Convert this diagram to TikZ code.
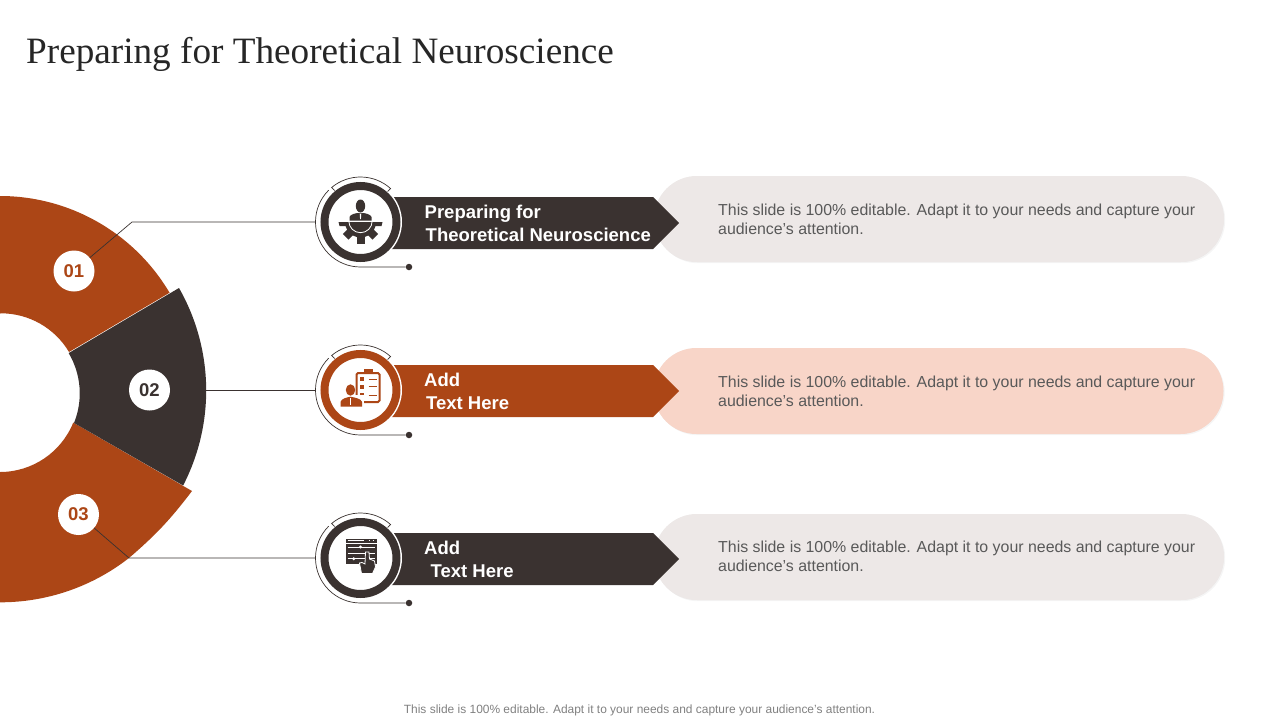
\documentclass[tikz,border=0pt]{standalone}
\usepackage{fontspec}
\setmainfont{Liberation Sans}
\newfontfamily\titlefont{Liberation Serif}
\usetikzlibrary{shadows}
\definecolor{rust}{HTML}{AC4616}
\definecolor{coal}{HTML}{3A3230}
\definecolor{ash}{HTML}{EDE8E7}
\definecolor{blush}{HTML}{F8D5C8}
\definecolor{bodygray}{HTML}{595959}
\tikzset{
  hub/.style={circle,minimum size=90,inner sep=0,outer sep=0},
  lead/.style={draw=coal,line width=.7},
  knob/.style={circle,fill=coal,minimum size=6.5,inner sep=0},
  badge/.style={circle,fill=white,minimum size=41,inner sep=0,font=\bfseries\fontsize{18.5}{20}\selectfont},
  pillbox/.style={minimum width=570,minimum height=86,rounded corners=43,inner sep=0,
    general shadow={fill=black,opacity=.035,scale=1.012},general shadow={fill=black,opacity=.04,shadow xshift=1.2,shadow yshift=-1.2}},
  blurb/.style={anchor=west,align=left,inner sep=0,text=bodygray,font=\fontsize{15.9}{19}\selectfont},
  tag/.style={anchor=west,align=left,inner sep=0,text=white,font=\bfseries\fontsize{18.5}{23}\selectfont}
}
\begin{document}
\begin{tikzpicture}[x=1pt,y=1pt]
  \useasboundingbox (0,0) rectangle (1280,-720);
  \node[anchor=west,inner sep=0,text=black!85,font=\titlefont\fontsize{37.2}{37}\selectfont] (title) at (26,-54) {Preparing for Theoretical Neuroscience};
  \fill[rust] (-2,-196) -- (0,-196) arc[start angle=90,end angle=30.6,radius=197] -- (69,-352) arc[start angle=30.7,end angle=90,radius=79] -- (-2,-314) -- cycle;
  \fill[rust] (74,-423) -- (192,-491) to[bend left=6] (129,-558) arc[start angle=-52,end angle=-90,radius=209] -- (-2,-602) -- (-2,-472) -- (0,-472) arc[start angle=-90,end angle=-22,radius=79] -- cycle;
  \fill[coal] (179,-288) arc[start angle=29.7,end angle=-27.3,radius=207] -- (74,-423) arc[start angle=-22,end angle=30.7,radius=79] -- cycle;
  \node[badge,text=rust] (badgeA) at (74,-271) {01};
  \node[badge,text=coal] (badgeB) at (149.5,-390) {02};
  \node[badge,text=rust] (badgeC) at (78.5,-514.5) {03};
  \coordinate (elbowA) at (132,-222);
  \coordinate (elbowC) at (129,-558);
  \node[pillbox,fill=ash] (pillA) at (939,-219) {};
  \node[pillbox,fill=blush] (pillB) at (938.5,-391) {};
  \node[pillbox,fill=ash] (pillC) at (939,-557) {};
  \fill[coal] (380,-197) -- (653,-197) -- (679,-223) -- (653,-249) -- (380,-249) -- cycle;
  \fill[rust] (380,-365) -- (653,-365) -- (679,-391) -- (653,-417) -- (380,-417) -- cycle;
  \fill[coal] (380,-533) -- (653,-533) -- (679,-559) -- (653,-585) -- (380,-585) -- cycle;
  \node[hub] (hubA) at (360.5,-222) {};
  \node[hub] (hubB) at (360.5,-390) {};
  \node[hub] (hubC) at (360.5,-558) {};
  \node[knob] (dotA) at (409,-267) {};
  \node[knob] (dotB) at (409,-435) {};
  \node[knob] (dotC) at (409,-603) {};
  \fill[white] (hubA) circle (41.5);
  \fill[white] (hubB) circle (41.5);
  \fill[white] (hubC) circle (41.5);
  \draw[coal,line width=8] (hubA) circle (36);
  \draw[rust,line width=8] (hubB) circle (36);
  \draw[coal,line width=8] (hubC) circle (36);
  \begin{scope}[lead]
    \draw (badgeA) -- (elbowA) -- (hubA);
    \draw (badgeB) -- (hubB);
    \draw (badgeC) -- (elbowC) -- (hubC);
    \draw (hubA.135) arc[start angle=135,end angle=270,radius=45] -- (dotA);
    \draw (hubB.135) arc[start angle=135,end angle=270,radius=45] -- (dotB);
    \draw (hubC.135) arc[start angle=135,end angle=270,radius=45] -- (dotC);
    \draw (hubA.130) ++(3,-3) -- (hubA.130) arc[start angle=130,end angle=48,radius=45] -- ++(-3,-3);
    \draw (hubB.130) ++(3,-3) -- (hubB.130) arc[start angle=130,end angle=48,radius=45] -- ++(-3,-3);
    \draw (hubC.130) ++(3,-3) -- (hubC.130) arc[start angle=130,end angle=48,radius=45] -- ++(-3,-3);
  \end{scope}
  \begin{scope}[shift={(hubA)},coal]
    \fill (0,16) ellipse (4.7 and 6.5);
    \fill (-11,1.5) -- (-11,5) .. controls (-10,8) and (-5,8.5) .. (-3,9) -- (3,9) .. controls (5,8.5) and (10,8) .. (11,5) -- (11,1.5) -- cycle;
    \fill[white] (-.8,8.5) -- (.8,8.5) -- (.4,3) -- (-.4,3) -- cycle;
    \fill (-22,0) -- (22,0) -- (21,-4) -- (15,-4) arc[start angle=-15,end angle=-165,radius=15.5] -- (-21,-4) -- cycle;
    \fill[rotate=-45] (-4,-21) rectangle (4,-12);
    \fill[rotate=45] (-4,-21) rectangle (4,-12);
    \fill (-4,-21.5) rectangle (4,-12);
    \draw[white,line width=.8] (-11.7,1) arc[start angle=180,end angle=360,radius=11.7];
  \end{scope}
  \begin{scope}[shift={(hubB)},rust]
    \draw[line width=2,rounded corners=1.5] (-4,17) rectangle (19,-12);
    \fill (3.3,21.5) rectangle (12.7,17);
    \fill (-.3,13) rectangle (3.7,9);
    \fill (-.3,5.3) rectangle (3.7,1.3);
    \fill (-.3,-3) rectangle (3.7,-7);
    \draw[line width=1] (8,11) -- (16,11) (8,3.3) -- (16,3.3) (8,-5) -- (16,-5);
    \fill[white] (-15,-17) rectangle (3,-5);
    \fill (-10,0) ellipse (4.7 and 5.7);
    \fill (-20,-16.7) -- (-20,-12) .. controls (-19,-8.5) and (-14,-7.5) .. (-10,-6.7) .. controls (-6,-7.5) and (.5,-8.5) .. (1.7,-12) -- (1.7,-16.7) -- cycle;
    \draw[white,line width=.8] (-10,-8) -- (-10,-15);
  \end{scope}
  \begin{scope}[shift={(hubC)},coal]
    \fill (-15,19.3) rectangle (16,15);
    \fill (-15,14) rectangle (16,-6);
    \draw[white,line width=.9] (-13,17.2) -- (3,17.2) (8,17.2) -- (9.5,17.2) (12,17.2) -- (13.5,17.2);
    \draw[white,line width=.8] (-13,11) -- (14,11) (-13,5) -- (14,5) (-13,-.7) -- (14,-.7);
    \fill[white] (0,11) circle (1.6) (-6.7,-.7) circle (1.6);
    \filldraw[draw=white,line width=.8] (5,6) -- (8.5,6) -- (9,-1) -- (14,-3) -- (15,-9) -- (12,-15.5) -- (1,-15.5) -- (-1,-5) -- (1.5,-4.5) -- (4.5,-6) -- cycle;
  \end{scope}
  \node[tag] (tagA) at (424.5,-223.5) {Preparing for\\\hspace*{1pt}Theoretical Neuroscience};
  \node[tag] (tagB) at (424,-391.5) {Add\\\hspace*{2pt}Text Here};
  \node[tag] (tagC) at (424,-559.5) {Add\\\hspace*{6.5pt}Text Here};
  \node[blurb] (blurbA) at (718,-219.5) {This slide is 100\% editable. Adapt it to your needs and capture your\\audience's attention.};
  \node[blurb] (blurbB) at (718,-391.5) {This slide is 100\% editable. Adapt it to your needs and capture your\\audience's attention.};
  \node[blurb] (blurbC) at (718,-556.5) {This slide is 100\% editable. Adapt it to your needs and capture your\\audience's attention.};
  \node[inner sep=0,text=black!50,font=\fontsize{11.95}{12}\selectfont] (note) at (639.5,-710) {This slide is 100\% editable. Adapt it to your needs and capture your audience's attention.};
\end{tikzpicture}
\end{document}
